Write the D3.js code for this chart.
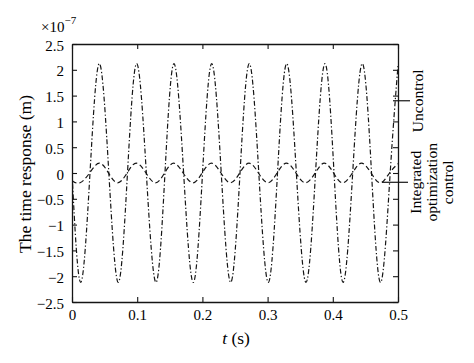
<!DOCTYPE html>
<html>
<head>
<meta charset="utf-8">
<script src="https://cdn.jsdelivr.net/npm/d3@7"></script>
<style>
  html, body { margin: 0; padding: 0; background: #fff; }
  svg { display: block; }
  text { font-family: "Liberation Serif", "Times New Roman", serif; fill: #000; }
</style>
</head>
<body>
<svg id="chart" width="474" height="363"></svg>
<script>
// ---- data (values in units of 1e-7 m) ----
const uncontrolT = [0, 0.0133, 0.0276, 0.0419, 0.0565, 0.0710, 0.0851, 0.0992, 0.1140, 0.1288, 0.1426, 0.1564, 0.1712, 0.1860, 0.2002, 0.2143, 0.2289, 0.2434, 0.2577, 0.2719, 0.2865, 0.3011, 0.3152, 0.3293, 0.3441, 0.3589, 0.3735, 0.3880, 0.4019, 0.4158, 0.4305, 0.4452, 0.4594, 0.4735, 0.4880, 0.5];
const uncontrolV = [0, -2.12, 0, 2.12, 0, -2.12, 0, 2.12, 0, -2.12, 0, 2.12, 0, -2.12, 0, 2.12, 0, -2.12, 0, 2.12, 0, -2.12, 0, 2.12, 0, -2.12, 0, 2.12, 0, -2.12, 0, 2.12, 0, -2.12, 0, 2.08];

const controlT = [0, 0.0123, 0.0270, 0.0419, 0.0560, 0.0700, 0.0845, 0.0985, 0.1135, 0.1280, 0.1420, 0.1560, 0.1705, 0.1855, 0.1995, 0.2140, 0.2285, 0.2430, 0.2572, 0.2715, 0.2860, 0.3005, 0.3145, 0.3290, 0.3435, 0.3580, 0.3730, 0.3870, 0.4012, 0.4150, 0.4300, 0.4440, 0.4587, 0.4730, 0.4870, 0.5];
const controlV = [-0.15, -0.19, 0, 0.19, 0, -0.19, 0, 0.19, 0, -0.19, 0, 0.19, 0, -0.19, 0, 0.19, 0, -0.19, 0, 0.19, 0, -0.19, 0, 0.19, 0, -0.19, 0, 0.19, 0, -0.19, 0, 0.19, 0, -0.19, 0, 0.18];

const xTicks = [0, 0.1, 0.2, 0.3, 0.4, 0.5];
const xTickLabels = ["0", "0.1", "0.2", "0.3", "0.4", "0.5"];
const yTicks = [2.5, 2, 1.5, 1, 0.5, 0, -0.5, -1, -1.5, -2, -2.5];
const yTickLabels = ["2.5", "2", "1.5", "1", "0.5", "0", "\u22120.5", "\u22121", "\u22121.5", "\u22122", "\u22122.5"];

const seriesNames = ["Uncontrol", "Integrated optimization control"];
const xTitle = "(s)";
const yTitle = "The time response (m)";

(function () {
// ---- layout ----
const svg = d3.select("#chart");
const mLeft = 72, mRight = 398, mTop = 44, mBottom = 302;
const x = d3.scaleLinear().domain([0, 0.5]).range([mLeft, mRight]);
const y = d3.scaleLinear().domain([-2.5, 2.5]).range([mBottom, mTop]);

const ink = "#151515";

// curves
const line = d3.line().x(d => x(d[0])).y(d => y(d[1])).curve(d3.curveNatural);
svg.append("clipPath").attr("id", "clip").append("rect")
  .attr("x", mLeft).attr("y", mTop).attr("width", mRight - mLeft).attr("height", mBottom - mTop);

const plot = svg.append("g").attr("clip-path", "url(#clip)");
plot.append("path")
  .datum(uncontrolT.map((t, i) => [t, uncontrolV[i]]))
  .attr("d", line).attr("fill", "none").attr("stroke", ink)
  .attr("stroke-width", 1.2).attr("stroke-dasharray", "5,2.2,1.3,2.2");
plot.append("path")
  .datum(controlT.map((t, i) => [t, controlV[i]]))
  .attr("d", line).attr("fill", "none").attr("stroke", ink)
  .attr("stroke-width", 1.2).attr("stroke-dasharray", "5,3");

// axes (ticks inward, mirrored box)
const tl = 5;
const axB = svg.append("g").attr("transform", `translate(0,${mBottom})`)
  .call(d3.axisBottom(x).tickValues(xTicks).tickSizeInner(-tl).tickSizeOuter(0).tickPadding(7)
    .tickFormat((d, i) => xTickLabels[i]));
const axT = svg.append("g").attr("transform", `translate(0,${mTop})`)
  .call(d3.axisTop(x).tickValues(xTicks).tickSizeInner(-tl).tickSizeOuter(0).tickFormat(""));
const axL = svg.append("g").attr("transform", `translate(${mLeft},0)`)
  .call(d3.axisLeft(y).tickValues(yTicks).tickSizeInner(-tl).tickSizeOuter(0).tickPadding(8)
    .tickFormat((d, i) => yTickLabels[i]));
const axR = svg.append("g").attr("transform", `translate(${mRight},0)`)
  .call(d3.axisRight(y).tickValues(yTicks).tickSizeInner(-tl).tickSizeOuter(0).tickFormat(""));

[axB, axT, axL, axR].forEach(g => {
  g.select(".domain").attr("stroke", ink).attr("stroke-width", 1.3);
  g.selectAll(".tick line").attr("stroke", ink).attr("stroke-width", 1.1);
  g.selectAll(".tick text").style("font-family", '"Liberation Serif", serif').style("font-size", "15px").attr("fill", "#000");
});
axL.selectAll(".tick text").attr("dy", "0.4em");
axB.selectAll(".tick text").attr("dy", "0.71em");

// exponent
const ex = svg.append("text").attr("x", 41).attr("y", 32).style("font-size", "15px");
ex.append("tspan").text("\u00d710");
ex.append("tspan").attr("dy", -8).style("font-size", "11px").text("\u22127");

// axis titles
const xt = svg.append("text").attr("x", 236).attr("y", 344).attr("text-anchor", "middle").style("font-size", "17.5px");
xt.append("tspan").style("font-style", "italic").text("t");
xt.append("tspan").text(" " + xTitle);

svg.append("text").attr("transform", `translate(31,${(mTop + mBottom) / 2 + 1}) rotate(-90)`)
  .attr("text-anchor", "middle").style("font-size", "17.5px").text(yTitle);

// annotations
svg.append("line").attr("x1", x(0.5) - 5).attr("x2", x(0.5) + 12)
  .attr("y1", y(1.4)).attr("y2", y(1.4)).attr("stroke", ink).attr("stroke-width", 1.2);
svg.append("line").attr("x1", x(0.5) - 16).attr("x2", x(0.5) + 10)
  .attr("y1", y(-0.18)).attr("y2", y(-0.18)).attr("stroke", ink).attr("stroke-width", 1.2);

svg.append("text").attr("transform", `translate(423,${y(1.4)}) rotate(-90)`)
  .attr("text-anchor", "middle").style("font-size", "15.5px").text(seriesNames[0]);

const words = ["Integrated", "optimization", "control"];
words.forEach((w, i) => {
  svg.append("text").attr("transform", `translate(${421 + i * 16},${y(-0.18)}) rotate(-90)`)
    .attr("text-anchor", "middle").style("font-size", "15.5px").text(w);
});
})();
</script>
</body>
</html>
